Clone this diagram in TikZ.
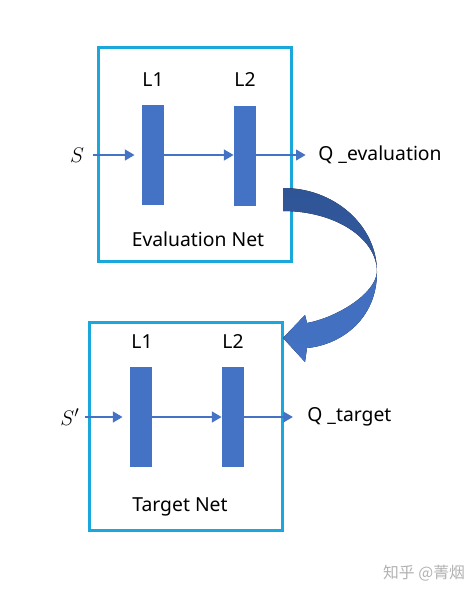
\documentclass[tikz,border=0pt]{standalone}
\usepackage{fontspec}
\setmainfont{Noto Sans}
\newfontfamily\cjk{Noto Sans CJK SC}
\usepackage{tikz}
\usetikzlibrary{arrows.meta}
\definecolor{netcyan}{RGB}{26,167,220}
\definecolor{layerblue}{RGB}{68,114,196}
\definecolor{darkblue}{RGB}{47,85,151}
\tikzstyle{netbox} = [rectangle, draw=netcyan, line width=1.7pt, minimum width=3.88cm]
\tikzstyle{layer} = [rectangle, fill=layerblue, minimum width=0.44cm, minimum height=2cm, inner sep=0pt]
\tikzstyle{txt} = [inner sep=0pt, font=\fontsize{11}{13}\selectfont]
\tikzstyle{state} = [inner sep=0pt, font=\fontsize{13}{15}\selectfont]
\tikzstyle{arrow} = [draw=layerblue, line width=1.3pt, -{Triangle[length=5.5pt,width=6pt]}]

\begin{document}
\begin{tikzpicture}
			[x=0.02cm, y=-0.02cm]
			\useasboundingbox (0,0) rectangle (474,594);

			% evaluation net
			\node (evalbox) [netbox, minimum height=4.3cm] at (195,154.5) {};
			\node (el1) [layer] at (153,155) {};
			\node (el2) [layer] at (245,156) {};
			\node (el1lab) [txt] at (153,80) {L1};
			\node (el2lab) [txt] at (245,80) {L2};
			\node (s) [state] at (77,155) {$S$};
			\node (qeval) [txt, anchor=west] at (318,155) {Q \_evaluation};
			\node (evalname) [txt] at (198,239) {Evaluation Net};

			\draw [arrow, shorten <=5pt, shorten >=4pt] (s.east) -- (el1.west);
			\draw [arrow] (el1.east) -- (el1.east -| el2.west);
			\draw [arrow, shorten >=7pt] (el2.east |- el1.east) -- (qeval.west);

			% target net
			\node (targbox) [netbox, minimum height=4.18cm] at (186,426.5) {};
			\node (tl1) [layer] at (141,417) {};
			\node (tl2) [layer] at (233,417) {};
			\node (tl1lab) [txt] at (142,342) {L1};
			\node (tl2lab) [txt] at (233,342) {L2};
			\node (s2) [state] at (70,417) {$S'$};
			\node (qtarg) [txt, anchor=west] at (307,417) {Q \_target};
			\node (targname) [txt] at (180,507) {Target Net};

			\draw [arrow, shorten <=3pt, shorten >=4pt] (s2.east) -- (tl1.west);
			\draw [arrow] (tl1.east) -- (tl2.west);
			\draw [arrow, shorten >=8pt] (tl2.east) -- (qtarg.west);

			% copy arrow
			\coordinate (tailtop) at (283,188);
			\coordinate (tailbot) at (283,211);
			\coordinate (turn) at (377,272);
			\coordinate (tip) at (283,338);
			\fill [top color=darkblue, bottom color=darkblue!85!layerblue] (tailtop)
				.. controls (335,188) and (377,226) .. (turn)
				.. controls (377,238) and (335,211) .. (tailbot) -- cycle;
			\fill [top color=layerblue!85!darkblue, bottom color=layerblue] (turn)
				.. controls (377,320) and (340,345) .. (307,348)
				-- (305,362) -- (tip) -- (305,315) -- (307,323)
				.. controls (335,318) and (375,295) .. (turn) -- cycle;

			\node (mark) [text=black!30, font=\cjk\fontsize{9}{11}\selectfont] at (424,573) {知乎 @菁烟};
\end{tikzpicture}
\end{document}
